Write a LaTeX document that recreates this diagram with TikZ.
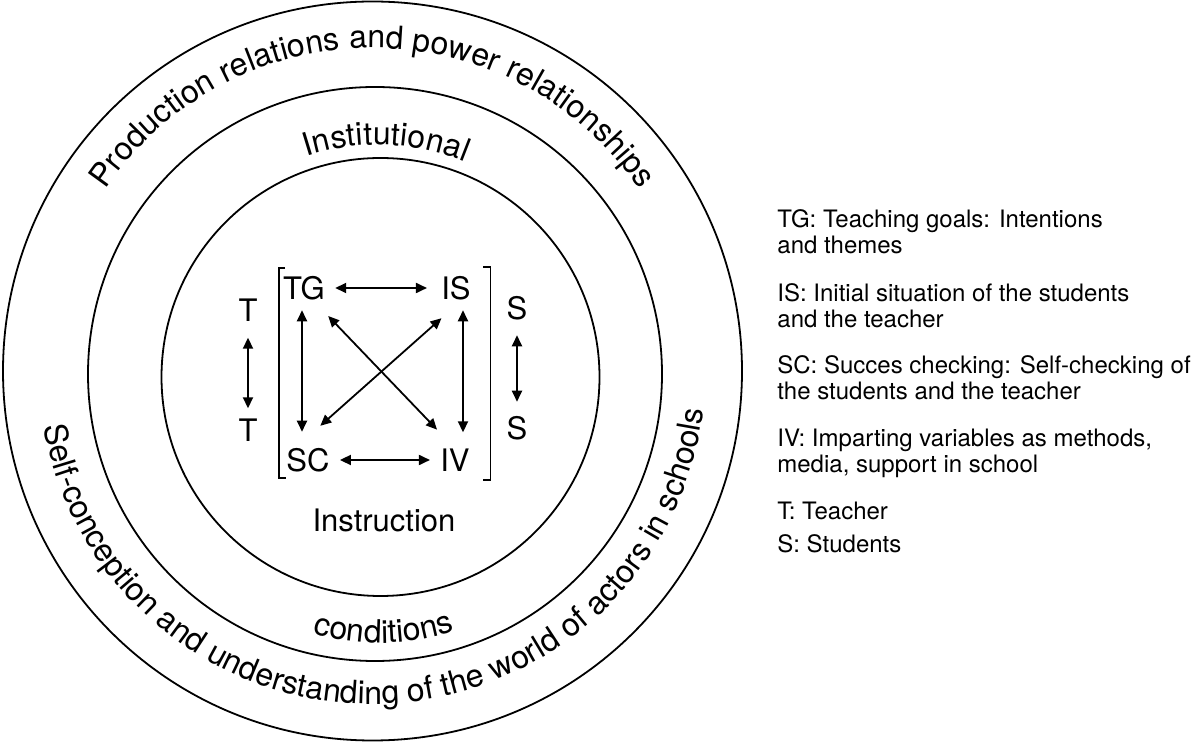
\documentclass[tikz,border=0pt]{standalone}
\usepackage{fontspec}
\setmainfont{TeX Gyre Heros}
\usetikzlibrary{arrows.meta,decorations.text}

\newcommand{\ringfont}{\fontsize{15.5}{18}\selectfont}
\newcommand{\arcfont}{\fontsize{16}{18}\selectfont}

\begin{document}
\begin{tikzpicture}[
        x=0.5pt, y=0.5pt,
        ring/.style={line width=0.9pt},
        lbl/.style={font=\ringfont, inner sep=5pt},
        dbl/.style={{Triangle[length=5.5pt,width=5pt]}-{Triangle[length=5.5pt,width=5pt]}, line width=0.9pt},
        brkt/.style={line width=0.8pt},
        legend/.style={font=\fontsize{12}{13}\selectfont, align=left, anchor=base west, inner sep=0pt},
        arctext/.style={decorate, decoration={text along path, text align=center, text={#1}}}
    ]
        \useasboundingbox (0,0) rectangle (1200,-742);

        % Rings
        \draw[ring] (372.5,-371) circle[radius=369.5];
        \draw[ring] (375,-374) circle[radius=287];
        \draw[ring] (380.5,-377) circle[radius=219];

        % Ring labels
        \path[arctext={|\arcfont|Production relations and power relationships}]
            (372.5,-371) ++(155:323) arc[start angle=155, end angle=25, radius=323];
        \path[arctext={|\arcfont|Self-conception and understanding of the world of actors in schools}]
            (372.5,-371) ++(180:333) arc[start angle=180, end angle=363, radius=333];
        \path[arctext={|\arcfont|Institutional}]
            (378,-376) ++(120:231) arc[start angle=120, end angle=56, radius=231];
        \path[arctext={|\arcfont|conditions}]
            (380,-413) ++(235:230) arc[start angle=235, end angle=307, radius=230];

        % Instruction square
        \node[lbl] (tg) at (304,-288) {TG};
        \node[lbl] (is) at (456,-288) {IS};
        \node[lbl] (sc) at (308,-460) {SC};
        \node[lbl] (iv) at (455,-460) {IV};
        \node[lbl] (t1) at (248,-310) {T};
        \node[lbl] (t2) at (248,-430) {T};
        \node[lbl] (s1) at (517,-308) {S};
        \node[lbl] (s2) at (517,-428) {S};
        \node[lbl] (instr) at (384,-520) {Instruction};

        % Brackets
        \draw[brkt] (285,-268) -- (279,-268) -- (279,-478) -- (286,-478);
        \draw[brkt] (483,-267) -- (490.5,-267) -- (490.5,-480) -- (483,-480);

        % Arrows
        \draw[dbl, shorten >=2pt] (tg) -- (is);
        \draw[dbl] (sc) -- (iv);
        \draw[dbl, shorten >=3pt] ([xshift=-1pt]tg.south) -- ([xshift=-1pt]tg.south |- sc.north);
        \draw[dbl, shorten >=3pt] ([xshift=3.5pt]is.south) -- ([xshift=3.5pt]is.south |- iv.north);
        \draw[dbl, shorten <=4pt, shorten >=6pt] (tg.-50.5) -- (iv.114);
        \draw[dbl, shorten <=6pt, shorten >=9pt] (is.-104) -- (sc.93);
        \draw[dbl, shorten <=3pt] (t1) -- (t2);
        \draw[dbl, shorten <=2.5pt, shorten >=2pt] (s1) -- (s2);

        % Legend (base anchor sits on the last line)
        \node[legend] (lgtg) at (777,-254) {TG: Teaching goals: Intentions\\and themes};
        \node[legend] (lgis) at (777,-328) {IS: Initial situation of the students\\and the teacher};
        \node[legend] (lgsc) at (777,-400) {SC: Succes checking: Self-checking of\\the students and the teacher};
        \node[legend] (lgiv) at (777,-473) {IV: Imparting variables as methods,\\media, support in school};
        \node[legend] (lgt) at (777,-520) {T: Teacher};
        \node[legend] (lgs) at (777,-553) {S: Students};
    \end{tikzpicture}
\end{document}
